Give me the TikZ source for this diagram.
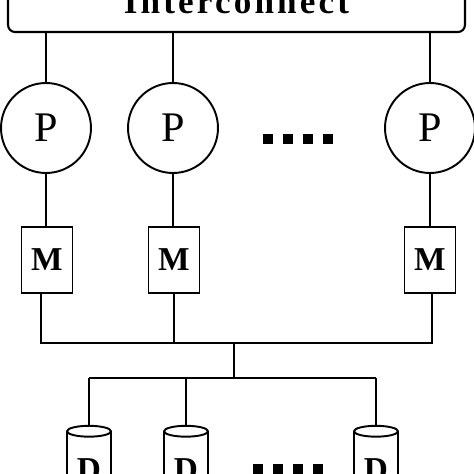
\documentclass[tikz,border=0pt]{standalone}
\usepackage{fontspec}
\setmainfont{Liberation Serif}
\usetikzlibrary{shapes.geometric}
\tikzset{
  link/.style={line width=1.2pt,black},
  procnode/.style={circle,draw,line width=1.1pt,minimum size=1.8cm,inner sep=0pt,font=\fontsize{24}{24}\selectfont},
  memnode/.style={rectangle,draw,line width=1.1pt,minimum width=1.02cm,minimum height=1.32cm,inner sep=0pt,font=\bfseries\fontsize{19}{19}\selectfont},
  disknode/.style={cylinder,shape border rotate=90,aspect=0.45,draw,line width=1.1pt,minimum width=0.88cm,minimum height=1.64cm,inner sep=0pt,font=\bfseries\fontsize{19}{19}\selectfont},
  netbox/.style={rectangle,draw,rounded corners=4pt,line width=1.2pt,minimum width=9.14cm,minimum height=1.2cm,inner sep=0pt,font=\bfseries\fontsize{20}{20}\selectfont\addfontfeature{LetterSpace=9}},
  dotmark/.style={fill=black},
}

\begin{document}
\begin{tikzpicture}[x=0.02cm,y=-0.02cm]
  \useasboundingbox (0,0) rectangle (474,474);
  \clip (0,0) rectangle (474,474);
  \node[netbox] (ic) at (236.5,2) {Interconnect};
  % processors and memories
  \node[procnode] (p1) at (46,128) {P};
  \node[procnode] (p2) at (173,128) {P};
  \node[procnode] (p3) at (430,128) {P};
  \node[memnode] (m1) at (47,260) {M};
  \node[memnode] (m2) at (174,260) {M};
  \node[memnode] (m3) at (430,260) {M};
  % disks
  \node[disknode] (d1) at (89,470) {D};
  \node[disknode] (d2) at (186,470) {D};
  \node[disknode] (d3) at (376,470) {D};
  \coordinate (b1) at (41,343);
  \coordinate (b3) at (432,343);
  \coordinate (hub) at (234,343);
  \coordinate (hub2) at (234,378);
  \foreach \x in {263,283,303,323} \fill[dotmark] (\x,134) rectangle ++(10,10);
  \foreach \x in {253,273,293,313} \fill[dotmark] (\x,464) rectangle ++(10,10);
  \foreach \n in {1,2,3} {
    \draw[link] (ic.south -| p\n.north) -- (p\n.north);
    \draw[link] (p\n.south) -- (p\n.south |- m\n.north);
    \draw[link] (d\n.north |- hub2) -- (d\n.north);
  }
  \draw[link] (m1.south -| b1) -- (b1) -- (b3) -- (m3.south -| b3);
  \draw[link] (m2.south) -- (m2.south |- b1);
  \draw[link] (hub) -- (hub2);
  \draw[link] (d1.north |- hub2) -- (d3.north |- hub2);
\end{tikzpicture}
\end{document}
